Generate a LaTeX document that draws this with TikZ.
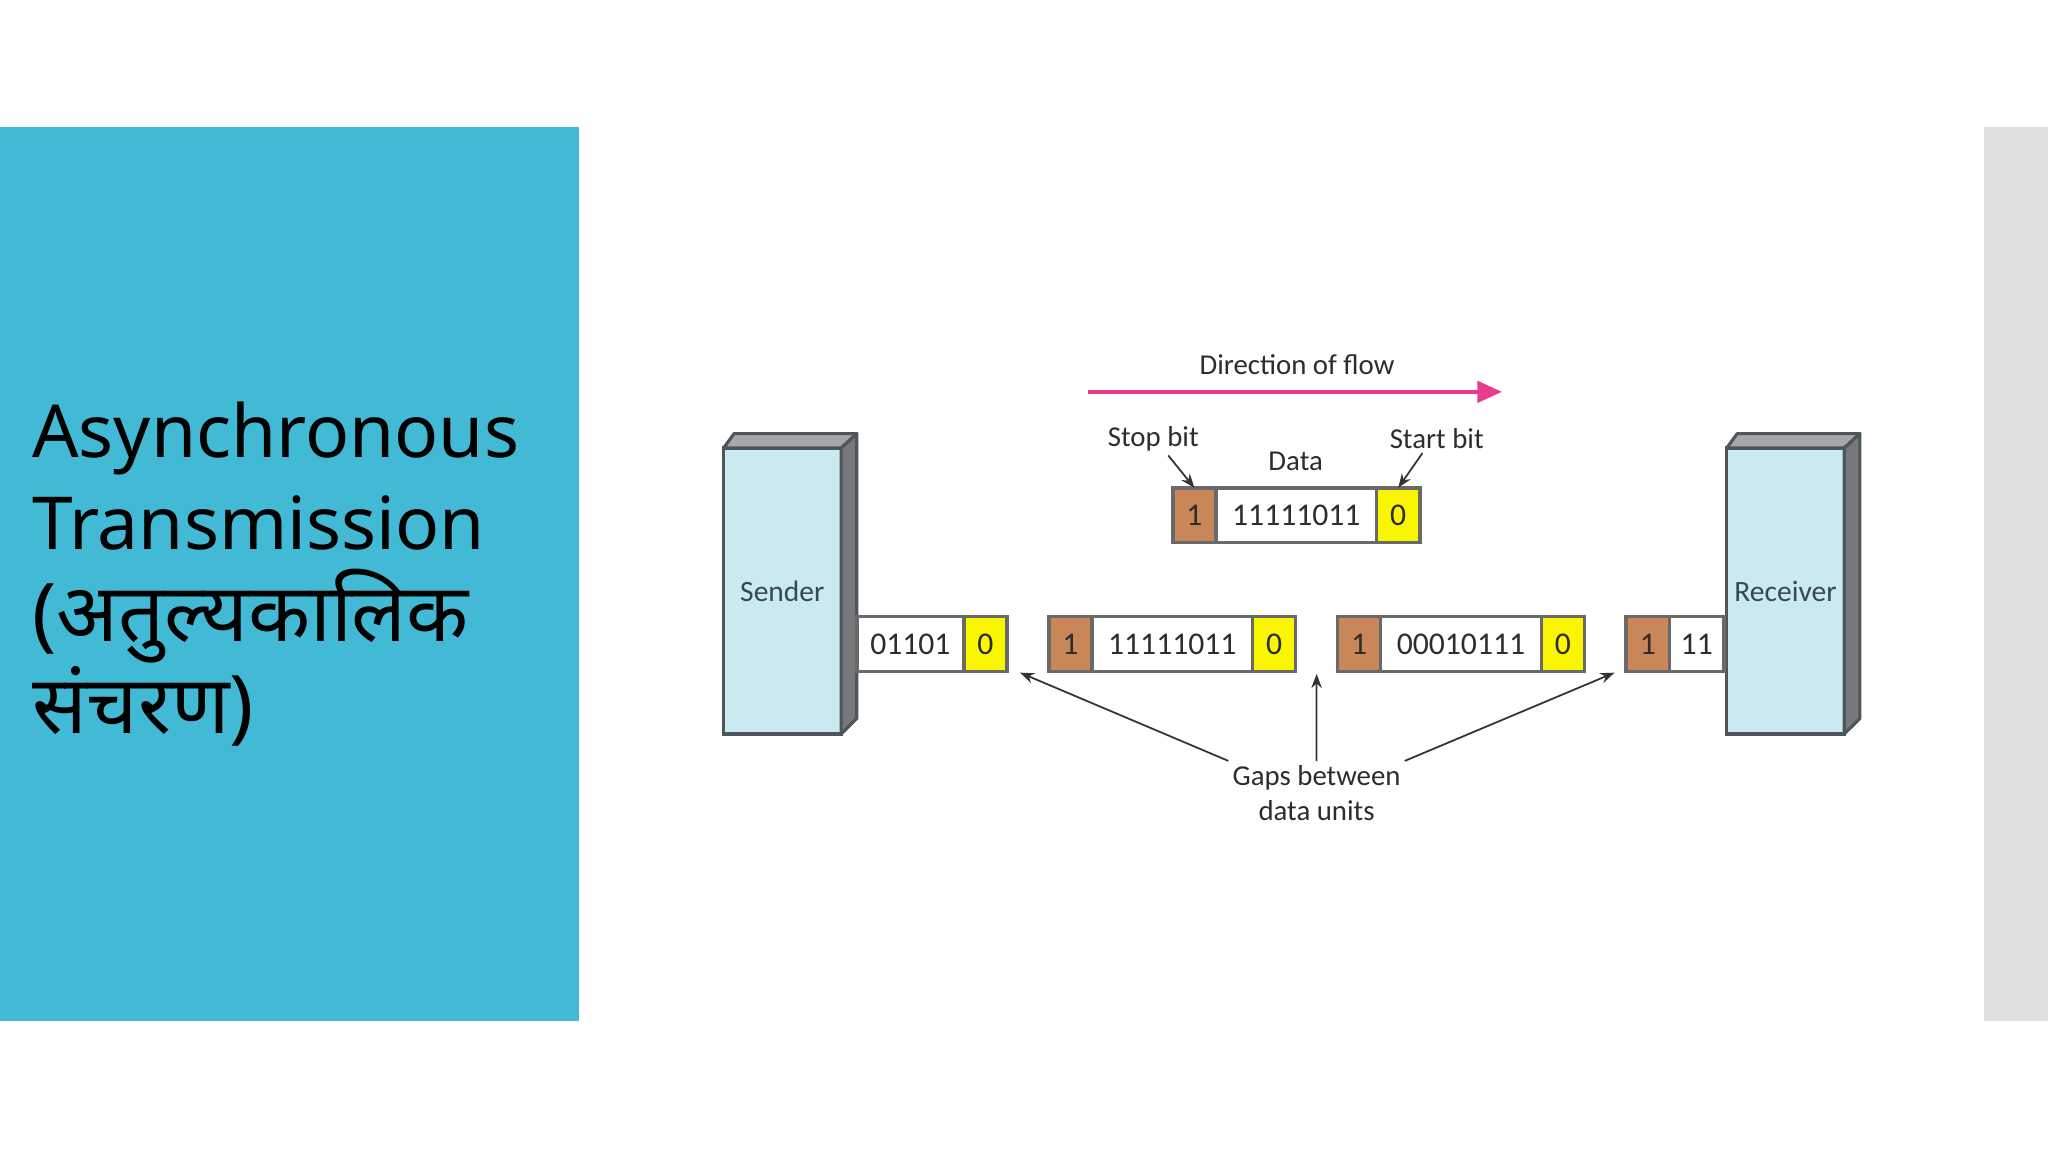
\documentclass[tikz,border=0pt]{standalone}
\usepackage{fontspec}
\setmainfont{Carlito}
\newfontfamily\hindifont[Script=Devanagari]{Noto Sans}
\usetikzlibrary{arrows.meta,positioning,calc}

\definecolor{slideblue}{RGB}{66,185,213}
\definecolor{sidegray}{RGB}{224,224,226}
\definecolor{boxfront}{RGB}{203,233,241}
\definecolor{boxtop}{RGB}{165,167,170}
\definecolor{boxside}{RGB}{118,120,124}
\definecolor{boxline}{RGB}{78,86,90}
\definecolor{stopbrown}{RGB}{201,134,88}
\definecolor{startyellow}{RGB}{250,246,0}
\definecolor{flowpink}{RGB}{230,60,140}
\definecolor{celledge}{RGB}{105,105,105}
\definecolor{labeltext}{RGB}{45,45,45}
\definecolor{boxtext}{RGB}{55,72,80}

\tikzset{
  cell/.style={draw=celledge, line width=1pt, minimum height=0.549cm, inner sep=0pt,
    outer sep=0pt, font=\fontsize{9}{10}\selectfont, text=labeltext},
  stopcell/.style={cell, fill=stopbrown, minimum width=0.431cm},
  startcell/.style={cell, fill=startyellow, minimum width=0.431cm},
  datacell/.style={cell, fill=white, minimum width=#1},
  datacell/.default=1.607cm,
  lbl/.style={font=\fontsize{8.2}{10}\selectfont, text=labeltext, inner sep=1pt},
  leader/.style={-{Stealth[length=4pt,width=3pt]}, line width=0.5pt, black!80},
  frontface/.style={draw=boxline, line width=0.9pt, fill=boxfront, minimum width=1.175cm,
    minimum height=2.860cm, inner sep=0pt, outer sep=0pt, text=boxtext,
    font=\fontsize{8.4}{10}\selectfont},
  topface/.style={draw=boxline, line width=0.9pt, fill=boxtop, line join=round},
  sideface/.style={draw=boxline, line width=0.9pt, fill=boxside, line join=round},
}
\newcommand{\devline}[1]{{\fontsize{23}{26.2}\selectfont #1}}

\begin{document}
\begin{tikzpicture}[x=0.013061cm, y=-0.013061cm, >=Stealth]
\useasboundingbox (0,0) rectangle (1568,882);
\fill[white] (0,0) rectangle (1568,882);

% slide panels
\fill[slideblue] (0,97) rectangle (443,782);
\fill[sidegray] (1519,97) rectangle (1568,782);
\node[anchor=north west, inner sep=0pt, align=left,
  font=\hindifont\fontsize{20.8}{26.2}\selectfont] (title) at (24,307)
  {Asynchronous\\Transmission\\\devline{(अतुल्यकालिक}\\\devline{संचरण)}};

% sender and receiver
\node[frontface] (sender) at (599,452.5) {Sender};
\draw[topface] (sender.north west) -- ++(8,-11) -- ++(94,0) -- (sender.north east) -- cycle;
\draw[sideface] (sender.north east) -- ++(12,-11) -- ++(0,218) -- (sender.south east) -- cycle;

\node[frontface] (receiver) at (1367,452.5) {Receiver};
\draw[topface] (receiver.north west) -- ++(8,-11) -- ++(94,0) -- (receiver.north east) -- cycle;
\draw[sideface] (receiver.north east) -- ++(12,-11) -- ++(0,218) -- (receiver.south east) -- cycle;

% direction of flow
\node[lbl] (flowlbl) at (993,279) {Direction of flow};
\coordinate (flowstart) at (833,300);
\coordinate (flowend) at (1150,300);
\draw[flowpink, line width=1.2pt, -{Triangle[length=7pt,width=6pt]}] (flowstart) -- (flowend);

% single data unit
\node[datacell] (topd) at (992.5,394.5) {11111011};
\node[stopcell, left=0pt of topd] (tops) {1};
\node[startcell, right=0pt of topd] (topz) {0};
\node[lbl] (datalbl) at (992,353) {Data};
\node[lbl] (stoplbl) at (883,336) {Stop bit};
\node[lbl] (startlbl) at (1100,336) {Start bit};
\draw[leader] ($(stoplbl.south west)!0.65!(stoplbl.south east)$) -- (tops.north);
\draw[leader] ($(startlbl.south west)!0.36!(startlbl.south east)$) -- (topz.north);

% stream of data units
\node[datacell=1.071cm, anchor=west] (f1d) at (656,493) {01101};
\node[startcell, right=0pt of f1d] (f1s) {0};
\node[stopcell, right=0.418cm of f1s] (f2b) {1};
\node[datacell, right=0pt of f2b] (f2d) {11111011};
\node[startcell, right=0pt of f2d] (f2s) {0};
\node[stopcell, right=0.418cm of f2s] (f3b) {1};
\node[datacell, right=0pt of f3b] (f3d) {00010111};
\node[startcell, right=0pt of f3d] (f3s) {0};
\node[stopcell, right=0.418cm of f3s] (f4b) {1};
\node[datacell=0.549cm, right=0pt of f4b] (f4d) {11};

% gaps
\node[lbl, align=center] (gapslbl) at (1008,607) {Gaps between\\data units};
\coordinate (gapA) at ($(f1s.south east)+(10,1)$);
\coordinate (gapB) at ($(f2s.south east)!0.5!(f3b.south west)+(0,2)$);
\coordinate (gapC) at ($(f4b.south west)+(-9,1)$);
\draw[leader] (gapslbl.north west) -- (gapA);
\draw[leader] (gapslbl.north) -- (gapB);
\draw[leader] (gapslbl.north east) -- (gapC);
\end{tikzpicture}
\end{document}
